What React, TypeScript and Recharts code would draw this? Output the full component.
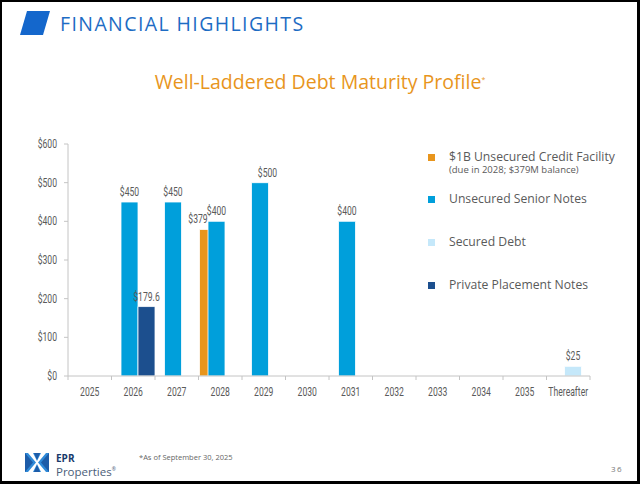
import { BarChart, Bar, XAxis, YAxis, LabelList, Legend } from "recharts";

const years = ["2025", "2026", "2027", "2028", "2029", "2030", "2031", "2032", "2033", "2034", "2035", "Thereafter"];
const creditFacility = [null, null, null, 379, null, null, null, null, null, null, null, null];
const seniorNotes = [null, 450, 450, 400, 500, null, 400, null, null, null, null, null];
const securedDebt = [null, null, null, null, null, null, null, null, null, null, null, 25];
const privatePlacement = [null, 179.6, null, null, null, null, null, null, null, null, null, null];
const yTicks = [0, 100, 200, 300, 400, 500, 600];

const data = years.map((year, i) => ({
  year,
  credit: creditFacility[i],
  senior: seniorNotes[i],
  secured: securedDebt[i],
  private: privatePlacement[i],
}));

const W = 640;
const H = 484;
const LEFT = 68;
const RIGHT = 50;
const BAND = (W - LEFT - RIGHT) / years.length;

const SANS = "'Open Sans', 'Noto Sans', sans-serif";
const GREY = "#5a5a5a";
const AXIS = "#c4c4c4";

const series = [
  { key: "credit", name: "$1B Unsecured Credit Facility", note: "(due in 2028; $379M balance)", color: "#e8951c" },
  { key: "senior", name: "Unsecured Senior Notes", color: "#009fdb" },
  { key: "secured", name: "Secured Debt", color: "#c5e8fa" },
  { key: "private", name: "Private Placement Notes", color: "#1c4f8e" },
];

// condensed gray text for the chart labels (no condensed face installed, so squeeze Roboto)
function Narrow({ x, y, anchor, children }: any) {
  return (
    <text
      transform={`translate(${x},${y}) scale(0.7,1)`}
      textAnchor={anchor}
      fill={GREY}
      fontSize={12.3}
      fontFamily="Roboto, sans-serif"
    >
      {children}
    </text>
  );
}

function YearTick(props: any) {
  const { x, y, payload, index } = props;
  const last = index === years.length - 1;
  return (
    <g>
      <line x1={x - BAND / 2} x2={x - BAND / 2} y1={y - 8} y2={y - 4} stroke={AXIS} />
      {last && <line x1={x + BAND / 2} x2={x + BAND / 2} y1={y - 8} y2={y - 4} stroke={AXIS} />}
      <Narrow x={x} y={y + 12} anchor="middle">
        {payload.value}
      </Narrow>
    </g>
  );
}

function DollarTick(props: any) {
  const { x, y, payload } = props;
  return (
    <Narrow x={x} y={y + 4} anchor="end">
      ${payload.value}
    </Narrow>
  );
}

// value label above a bar; shift moves it sideways (used where two bars overlap in 2028)
const valueLabel = (shift: (i: number, w: number) => number) => (p: any) => {
  const { x, y, width, value, index } = p;
  if (value == null) return null;
  return (
    <Narrow x={x + width / 2 + shift(index, width)} y={y - 6} anchor="middle">
      ${value}
    </Narrow>
  );
};

function SideLegend() {
  return (
    <div style={{ position: "absolute", left: 428, top: 157, fontFamily: SANS, color: GREY, lineHeight: 1 }}>
      {series.map((s, i) => (
        <div key={s.key} style={{ position: "absolute", left: 0, top: i * 42.8 }}>
          <div style={{ position: "absolute", left: 0, top: -3.5, width: 7, height: 7, background: s.color }} />
          <div style={{ position: "absolute", left: 21, top: -6.5, fontSize: 12.2, whiteSpace: "nowrap" }}>{s.name}</div>
          {s.note && (
            <div style={{ position: "absolute", left: 21, top: 8, fontSize: 9.5, whiteSpace: "nowrap" }}>{s.note}</div>
          )}
        </div>
      ))}
    </div>
  );
}

export default function App() {
  return (
    <div
      style={{
        position: "fixed",
        left: 0,
        top: 0,
        width: W,
        height: H,
        boxSizing: "border-box",
        borderStyle: "solid",
        borderColor: "#000",
        borderWidth: "2px 3px 3px 2px",
        background: "#fff",
        overflow: "hidden",
        lineHeight: 1,
      }}
    >
      <div style={{ position: "absolute", left: -2, top: -2, width: W, height: H }}>
        <svg style={{ position: "absolute", left: 20, top: 11 }} width={31} height={24}>
          <polygon points="7,0 30,0 23,24 0,24" fill="#1467cc" />
        </svg>
        <div
          style={{
            position: "absolute",
            left: 60,
            top: 13.5,
            fontFamily: SANS,
            fontSize: 19.5,
            letterSpacing: 1.4,
            color: "#1d6cc4",
          }}
        >
          FINANCIAL HIGHLIGHTS
        </div>
        <div
          style={{
            position: "absolute",
            left: 0,
            width: W,
            top: 72,
            textAlign: "center",
            fontFamily: SANS,
            fontSize: 19.5,
            color: "#e8951c",
          }}
        >
          Well-Laddered Debt Maturity Profile<sup style={{ fontSize: 7 }}>*</sup>
        </div>

        <div style={{ position: "absolute", left: 0, top: 0 }}>
          <BarChart
            width={W}
            height={H}
            data={data}
            margin={{ top: 144, right: RIGHT, bottom: 78, left: 8 }}
            barSize={17}
            barGap={-8.5}
          >
            <XAxis
              dataKey="year"
              stroke={AXIS}
              tickLine={false}
              tickSize={5}
              tickMargin={3}
              height={30}
              interval={0}
              tick={<YearTick />}
            />
            <YAxis
              domain={[0, 600]}
              ticks={yTicks}
              stroke={AXIS}
              tickSize={4}
              tickMargin={7}
              width={60}
              tick={<DollarTick />}
            />
            <Legend content={() => null} />
            <Bar dataKey="credit" name={series[0].name} fill={series[0].color} stroke="#fff" strokeWidth={0.8} isAnimationActive={false}>
              <LabelList dataKey="credit" content={valueLabel((_, w) => -w / 2 - 1.5)} />
            </Bar>
            <Bar dataKey="senior" name={series[1].name} fill={series[1].color} stroke="#fff" strokeWidth={0.8} isAnimationActive={false}>
              <LabelList
                dataKey="senior"
                content={valueLabel((i) => (creditFacility[i] != null ? 7.5 : 0))}
              />
            </Bar>
            <Bar dataKey="secured" name={series[2].name} fill={series[2].color} stroke="#fff" strokeWidth={0.8} isAnimationActive={false}>
              <LabelList dataKey="secured" content={valueLabel(() => 0)} />
            </Bar>
            <Bar dataKey="private" name={series[3].name} fill={series[3].color} stroke="#fff" strokeWidth={0.8} isAnimationActive={false}>
              <LabelList dataKey="private" content={valueLabel(() => 0)} />
            </Bar>
          </BarChart>
        </div>

        <SideLegend />

        <div style={{ position: "absolute", left: 139, top: 454, fontFamily: SANS, fontSize: 7.5, color: "#666" }}>
          *As of September 30, 2025
        </div>

        <svg style={{ position: "absolute", left: 25, top: 453 }} width={24} height={19}>
          <rect x={0} y={0} width={24} height={19} fill="#1d5ca8" />
          <polygon points="0,0 9,0 12,7 15,0 24,0 16,9.5 24,19 15,19 12,12 9,19 0,19 8,9.5" fill="#2f8ad8" />
          <polygon points="3,0 8,0 12,8 16,0 21,0 13,9.5 21,19 16,19 12,11 8,19 3,19 11,9.5" fill="#ffffff" />
        </svg>
        <div
          style={{
            position: "absolute",
            left: 56,
            top: 453,
            fontFamily: SANS,
            fontWeight: 700,
            fontSize: 10,
            color: "#173a6b",
          }}
        >
          EPR
        </div>
        <div style={{ position: "absolute", left: 56, top: 465.5, fontFamily: SANS, fontSize: 11.5, color: "#4a5d78" }}>
          Properties<sup style={{ fontSize: 5 }}>®</sup>
        </div>
        <div
          style={{ position: "absolute", left: 611, top: 465, fontFamily: SANS, fontSize: 8, color: "#777", letterSpacing: 1.5 }}
        >
          36
        </div>
      </div>
    </div>
  );
}
